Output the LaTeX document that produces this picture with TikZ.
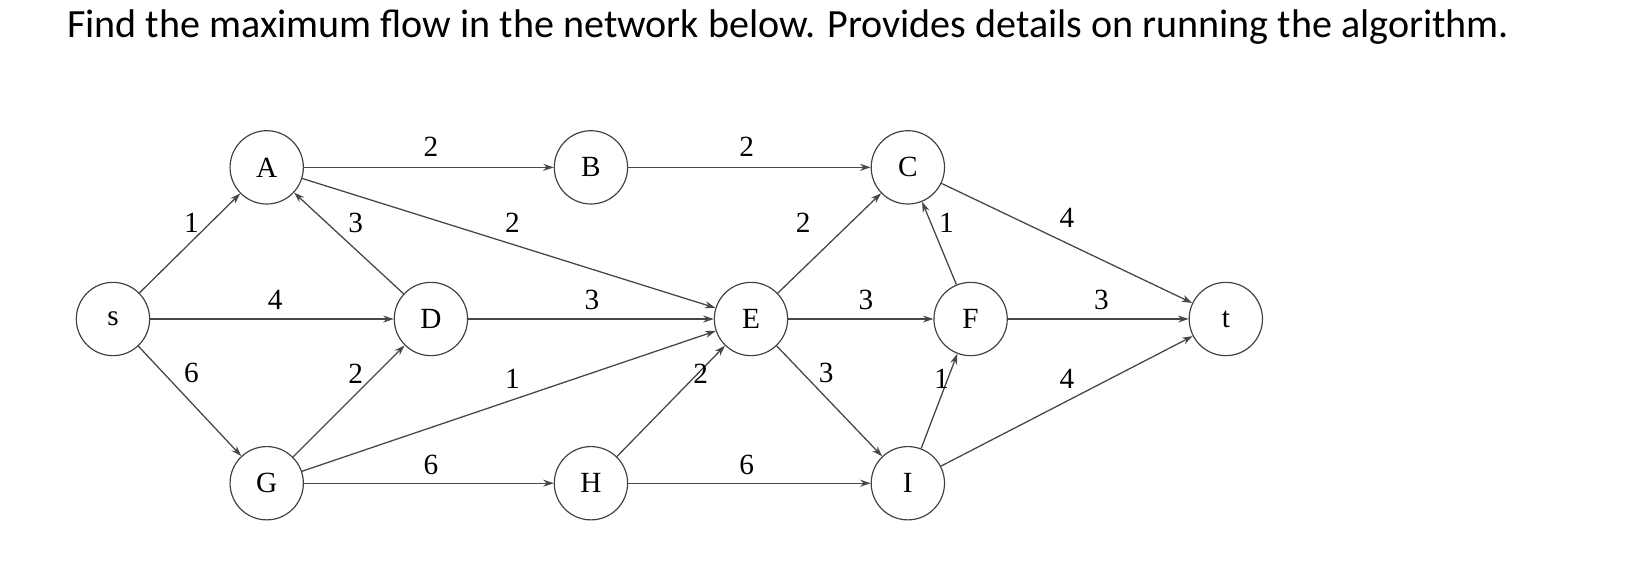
\documentclass[tikz,border=0pt]{standalone}
\usepackage{fontspec}
\setmainfont{Liberation Serif}
\newfontfamily\titlefont{Carlito}
\usetikzlibrary{arrows.meta}
\begin{document}
\begin{tikzpicture}[x=0.03138cm,y=-0.03138cm,
  vert/.style={circle,draw=black!75,line width=1pt,minimum size=2.2cm,inner sep=0pt,font=\fontsize{25}{25}\selectfont},
  arc/.style={draw=black!72,line width=1.1pt,-{Stealth[length=9pt,width=6pt]}},
  lab/.style={font=\fontsize{25}{25}\selectfont,inner sep=0pt}]
\useasboundingbox (0,0) rectangle (1568,539);
\node[anchor=base west,font=\titlefont\fontsize{34.2}{36}\selectfont,inner sep=0pt] (title) at (64,36) {Find the maximum flow in the network below. Provides details on running the algorithm.};
\node[vert] (s) at (108,305) {s};
\node[vert] (A) at (255,160) {A};
\node[vert] (B) at (565,160) {B};
\node[vert] (C) at (868,160) {C};
\node[vert] (D) at (412,305) {D};
\node[vert] (E) at (718,305) {E};
\node[vert] (F) at (928,305) {F};
\node[vert] (t) at (1172,305) {t};
\node[vert] (G) at (255,462) {G};
\node[vert] (H) at (565,462) {H};
\node[vert] (I) at (868,462) {I};
\draw[arc] (s) -- (A);
\draw[arc] (s) -- (D);
\draw[arc] (s) -- (G);
\draw[arc] (A) -- (B);
\draw[arc] (A) -- (E);
\draw[arc] (D) -- (A);
\draw[arc] (G) -- (D);
\draw[arc] (D) -- (E);
\draw[arc] (G) -- (E);
\draw[arc] (G) -- (H);
\draw[arc] (B) -- (C);
\draw[arc] (H) -- (E);
\draw[arc] (H) -- (I);
\draw[arc] (E) -- (C);
\draw[arc] (E) -- (F);
\draw[arc] (E) -- (I);
\draw[arc] (F) -- (C);
\draw[arc] (I) -- (F);
\draw[arc] (C) -- (t);
\draw[arc] (F) -- (t);
\draw[arc] (I) -- (t);
\node[lab] (l1) at (183,213) {1};
\node[lab] (l2) at (340,213) {3};
\node[lab] (l3) at (412,140) {2};
\node[lab] (l4) at (490,213) {2};
\node[lab] (l5) at (263,287) {4};
\node[lab] (l6) at (566,287) {3};
\node[lab] (l7) at (183,357) {6};
\node[lab] (l8) at (340,357) {2};
\node[lab] (l9) at (490,362) {1};
\node[lab] (l10) at (412,445) {6};
\node[lab] (l11) at (670,357) {2};
\node[lab] (l12) at (714,140) {2};
\node[lab] (l13) at (768,213) {2};
\node[lab] (l14) at (905,213) {1};
\node[lab] (l15) at (1020,208) {4};
\node[lab] (l16) at (828,287) {3};
\node[lab] (l17) at (1053,287) {3};
\node[lab] (l18) at (790,357) {3};
\node[lab] (l19) at (900,362) {1};
\node[lab] (l20) at (1020,362) {4};
\node[lab] (l21) at (714,445) {6};
\end{tikzpicture}
\end{document}
